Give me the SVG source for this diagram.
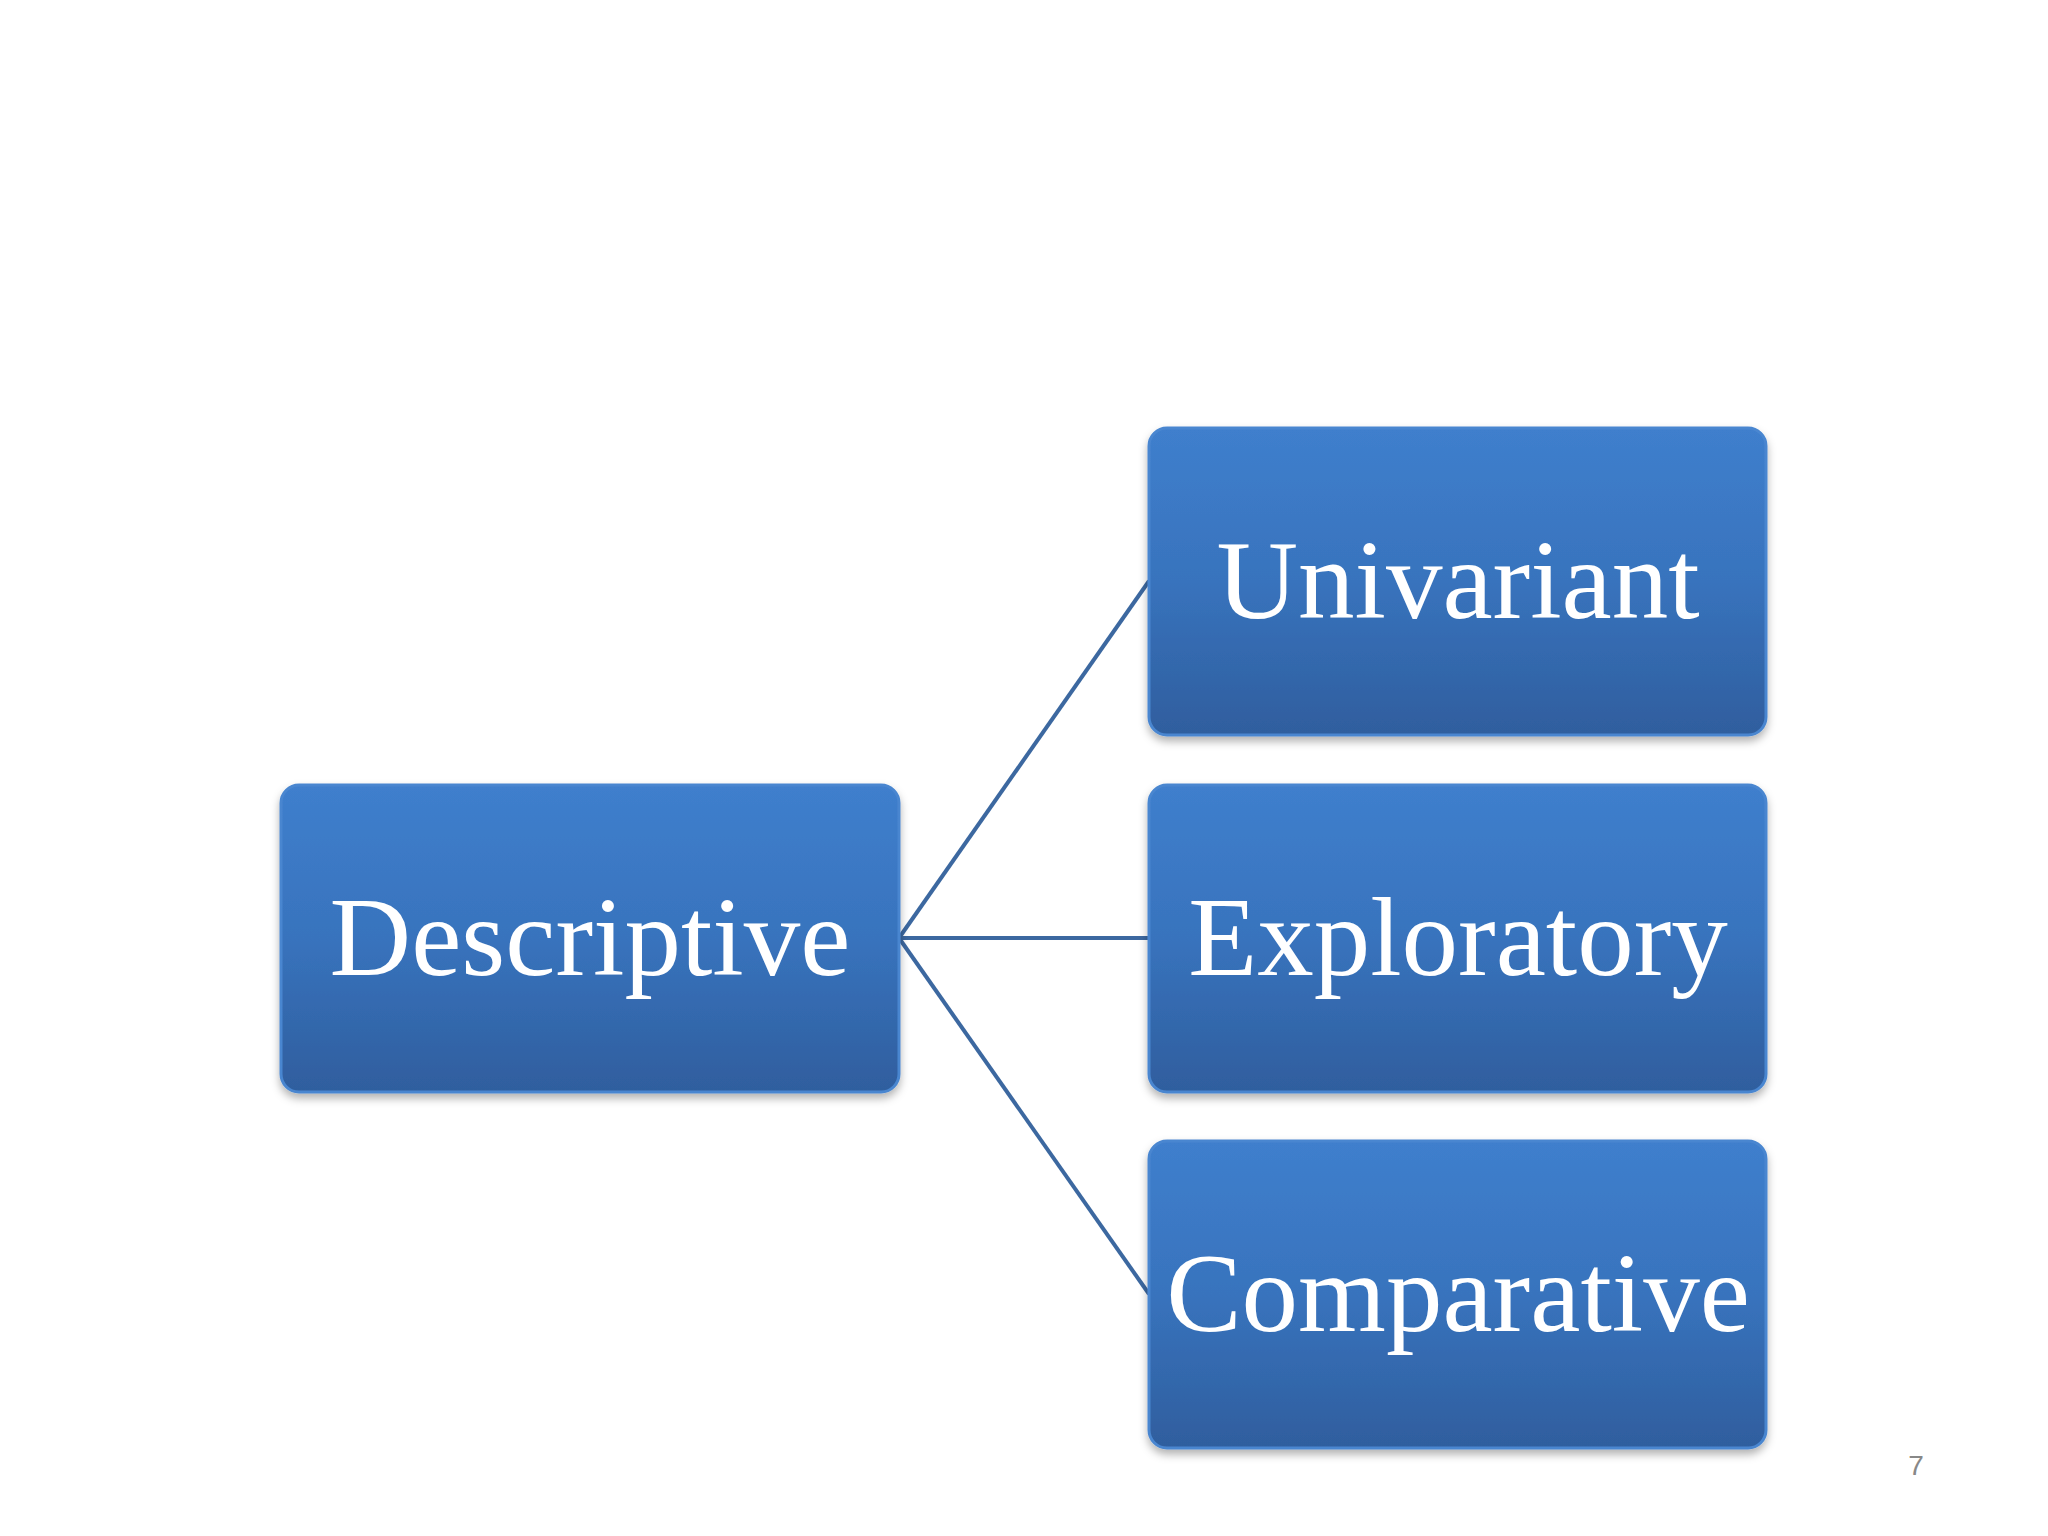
<svg xmlns="http://www.w3.org/2000/svg" width="2048" height="1536" viewBox="0 0 2048 1536">
<defs>
<linearGradient id="g" x1="0" y1="0" x2="0" y2="1">
<stop offset="0" stop-color="#3f7fcd"/>
<stop offset="0.5" stop-color="#3873bd"/>
<stop offset="1" stop-color="#2f5e9e"/>
</linearGradient>
<filter id="sh" x="-10%" y="-10%" width="120%" height="130%">
<feDropShadow dx="0" dy="5" stdDeviation="4" flood-color="#000" flood-opacity="0.3"/>
</filter>
</defs>
<style>
.box{fill:url(#g);stroke:#4a86d0;stroke-width:3;filter:url(#sh)}
.t{font-family:"Liberation Serif","Times New Roman",serif;font-size:113px;fill:#fff;text-anchor:middle}
.c{stroke:#3c68a0;stroke-width:4;fill:none}
</style>
<rect width="2048" height="1536" fill="#fff"/>
<g id="connectors">
<line class="c" x1="899" y1="938" x2="1149" y2="581"/>
<line class="c" x1="899" y1="938" x2="1149" y2="938"/>
<line class="c" x1="899" y1="938" x2="1149" y2="1294"/>
</g>
<g id="descriptive"><rect class="box" x="281" y="785" width="618" height="307" rx="18"/><text class="t" x="590" y="975">Descriptive</text></g>
<g id="univariant"><rect class="box" x="1149" y="428" width="617" height="307" rx="18"/><text class="t" x="1458" y="618">Univariant</text></g>
<g id="exploratory"><rect class="box" x="1149" y="785" width="617" height="307" rx="18"/><text class="t" x="1458" y="975">Exploratory</text></g>
<g id="comparative"><rect class="box" x="1149" y="1141" width="617" height="307" rx="18"/><text class="t" x="1458" y="1331">Comparative</text></g>
<text x="1916" y="1475" font-family="Liberation Sans,Arial,sans-serif" font-size="28" fill="#888" text-anchor="middle">7</text>
</svg>
